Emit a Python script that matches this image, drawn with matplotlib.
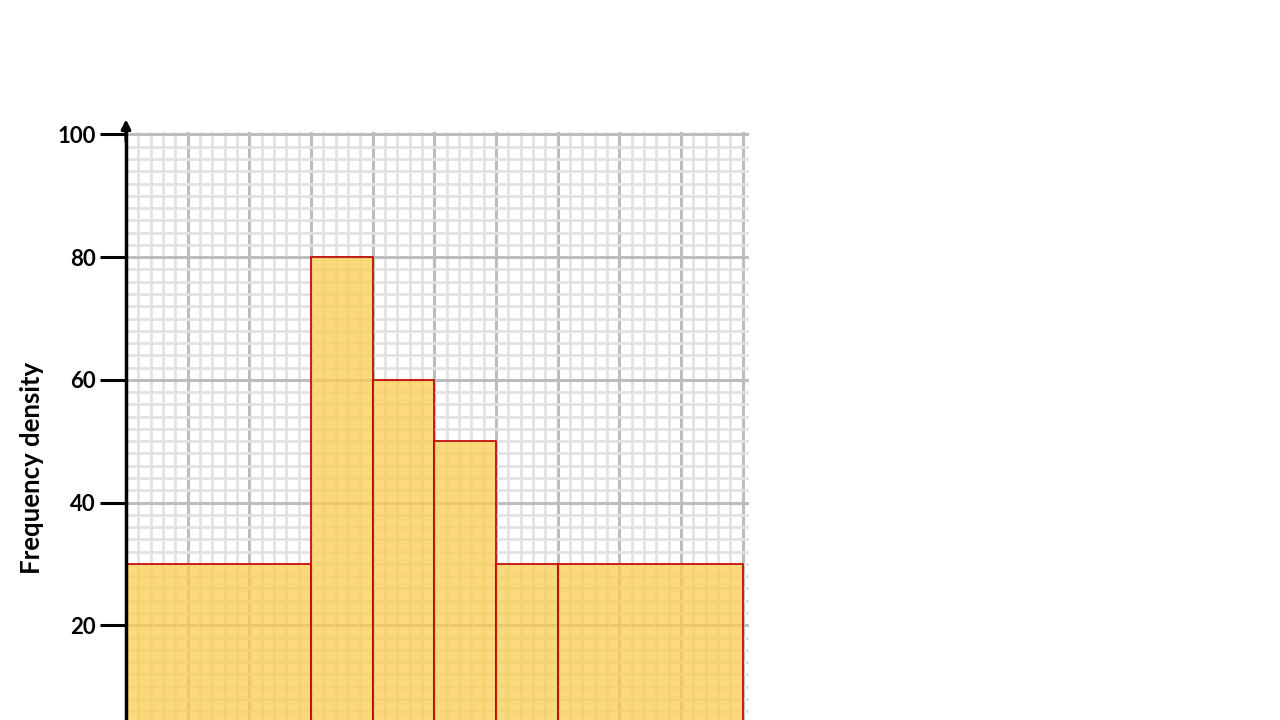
import matplotlib
matplotlib.use("Agg")
import matplotlib.pyplot as plt
from matplotlib.ticker import MultipleLocator

# Data
bin_edges = [0, 3, 4, 5, 6, 7, 10]
densities = [30, 80, 60, 50, 30, 30]
y_ticks = [20, 40, 60, 80, 100]
y_label = "Frequency density"

plt.rcParams['font.family'] = ['Lato', 'DejaVu Sans']

fig = plt.figure(figsize=(12.8, 7.2), dpi=100)
ax = fig.add_axes([126/1280, -28/720, 623/1280, 616/720])

ax.set_xlim(0, 10.1)
ax.set_ylim(0, 100.4)

# grid
ax.xaxis.set_major_locator(MultipleLocator(1))
ax.xaxis.set_minor_locator(MultipleLocator(0.2))
ax.yaxis.set_major_locator(MultipleLocator(10))
ax.yaxis.set_minor_locator(MultipleLocator(2))
ax.grid(which='major', color='#bdbdbd', linewidth=2.2, zorder=0)
ax.grid(which='minor', color='#e2e2e2', linewidth=2.0, zorder=0)
ax.set_axisbelow(True)

widths = [bin_edges[i+1] - bin_edges[i] for i in range(len(densities))]
ax.bar(bin_edges[:-1], densities, width=widths, align='edge',
       color=(250/255, 205/255, 80/255, 0.75), edgecolor='#c00000',
       linewidth=1.2, zorder=2)

# axis styling
for s in ['top', 'right', 'bottom']:
    ax.spines[s].set_visible(False)
ax.spines['left'].set_linewidth(2.5)
ax.spines['left'].set_color('black')
ax.spines['left'].set_zorder(5)
ax.tick_params(axis='x', which='both', bottom=False, labelbottom=False)
ax.tick_params(axis='y', which='minor', left=False)
ax.set_yticks(y_ticks)
ax.set_yticklabels([str(v) for v in y_ticks])
ax.tick_params(axis='y', which='major', length=19, width=2.2, color='black',
               pad=3, labelsize=16)
for lbl in ax.get_yticklabels():
    lbl.set_fontweight('bold')

# arrow at top of y axis
ax.annotate('', xy=(0, 1.025), xycoords='axes fraction',
            xytext=(0, 0.98), textcoords='axes fraction',
            arrowprops=dict(arrowstyle='-|>', color='black', lw=2.2,
                            mutation_scale=14),
            annotation_clip=False, zorder=6)

fig.text(32/1280, 1 - 468/720, y_label, rotation=90, ha='center', va='center',
         fontsize=18.5, fontweight='bold')

fig.savefig('out.png', dpi=100)
